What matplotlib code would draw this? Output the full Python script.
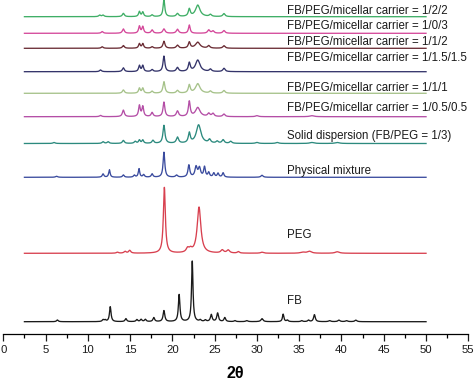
"""Stacked XRD patterns of FB, PEG and the FB/PEG/micellar carrier blends."""

import numpy as np
import matplotlib

matplotlib.use("Agg")
import matplotlib.pyplot as plt

TWO_THETA = np.arange(2.5, 50.0001, 0.02)

# peaks: (2theta, height, half width at half max)
FB_PEAKS = [
    (6.4, 1.7, 0.12), (11.8, 1.8, 0.12), (12.05, 1.5, 0.12), (12.65, 15, 0.11),
    (14.5, 3, 0.12), (15.8, 2, 0.12), (16.3, 2.2, 0.12), (16.8, 2.2, 0.12),
    (17.8, 4, 0.12), (19.0, 11, 0.12), (20.8, 27, 0.11), (22.35, 61, 0.1),
    (23.3, 1.5, 0.12), (23.9, 1.5, 0.12), (24.6, 7, 0.12), (25.35, 8.5, 0.12),
    (26.2, 4, 0.12), (27.4, 1, 0.12), (28.8, 1, 0.15), (30.6, 3, 0.15),
    (33.1, 7.5, 0.1), (33.6, 1.5, 0.12), (35.3, 1, 0.12), (36.1, 1.5, 0.12),
    (36.8, 7, 0.12), (38.6, 1, 0.15), (39.7, 1.5, 0.15), (40.6, 1, 0.15),
    (41.7, 1.5, 0.15),
]
PEG_PEAKS = [
    (13.5, 1, 0.15), (14.4, 1.8, 0.15), (14.95, 2.8, 0.15), (19.05, 66, 0.14),
    (21.8, 4, 0.2), (22.15, 3, 0.2), (23.15, 46, 0.26), (25.9, 3, 0.2),
    (26.6, 3, 0.2), (27.8, 1.5, 0.15), (30.6, 1, 0.2), (35.4, 1, 0.3),
    (36.2, 2, 0.3), (39.5, 1.5, 0.3),
]
PHYSICAL_PEAKS = [
    (6.3, 1, 0.15), (11.8, 3.3, 0.12), (12.55, 7.5, 0.1), (14.2, 2.3, 0.12),
    (15.5, 2, 0.12), (16.05, 8.5, 0.1), (16.6, 2.5, 0.12), (17.6, 3.3, 0.12),
    (19.0, 25, 0.12), (20.5, 2, 0.15), (21.95, 12, 0.13), (22.8, 10, 0.16),
    (23.2, 9, 0.16), (23.8, 10, 0.12), (24.3, 4.5, 0.12), (24.9, 4, 0.12),
    (25.4, 3.8, 0.12), (26.0, 4.3, 0.12), (30.6, 2, 0.15),
]
SOLID_PEAKS = [
    (6.0, 1, 0.15), (11.8, 1.7, 0.14), (12.4, 1.7, 0.14), (14.2, 3, 0.14),
    (15.6, 2, 0.14), (16.1, 3.3, 0.12), (16.5, 3.3, 0.12), (17.7, 3, 0.14),
    (19.0, 18, 0.14), (20.6, 6, 0.16), (22.0, 10, 0.14), (23.1, 18.5, 0.33),
    (24.4, 3.5, 0.16), (25.3, 2, 0.16), (26.0, 3.5, 0.16), (26.9, 2, 0.16),
    (30.0, 1, 0.2), (32.4, 1, 0.2), (36.5, 1, 0.3), (39.5, 1, 0.3),
]
MC_05_05_PEAKS = [
    (11.5, 1.3, 0.14), (14.2, 6.5, 0.14), (16.1, 11, 0.12), (16.5, 10, 0.12),
    (17.6, 4, 0.14), (19.0, 14.5, 0.13), (20.6, 5.5, 0.16), (22.0, 15, 0.13),
    (23.0, 9, 0.32), (24.3, 3, 0.16), (24.8, 3, 0.16), (26.1, 2.5, 0.16),
    (30.0, 1, 0.2), (36.5, 1, 0.3),
]
MC_1_1_PEAKS = [
    (14.2, 3.3, 0.14), (16.1, 5, 0.12), (16.5, 5, 0.12), (17.6, 2, 0.14),
    (19.0, 11.5, 0.14), (20.6, 2.7, 0.16), (22.0, 8, 0.14), (23.0, 9.5, 0.32),
    (24.5, 2, 0.16), (26.1, 2.7, 0.16),
]
MC_15_15_PEAKS = [
    (11.5, 1.7, 0.14), (14.2, 3.8, 0.14), (16.1, 6, 0.12), (16.5, 6, 0.12),
    (17.6, 2, 0.14), (19.0, 15.5, 0.13), (20.6, 4, 0.16), (22.0, 8.5, 0.14),
    (23.0, 11.5, 0.32), (24.5, 2.3, 0.16), (26.1, 3.3, 0.16),
]
MC_1_2_PEAKS = [
    (11.7, 1.5, 0.14), (14.2, 2.7, 0.14), (16.1, 4.5, 0.12), (16.5, 4.5, 0.12),
    (17.6, 1.5, 0.14), (19.0, 7, 0.14), (20.6, 3, 0.16), (22.0, 6, 0.14),
    (23.0, 6, 0.32), (24.3, 2.5, 0.16), (26.1, 2.5, 0.16),
]
MC_0_3_PEAKS = [
    (11.7, 1.7, 0.14), (14.2, 4.3, 0.14), (16.1, 7, 0.12), (16.5, 6.5, 0.12),
    (17.6, 3.3, 0.14), (19.0, 4.3, 0.16), (20.6, 4, 0.16), (22.0, 8.3, 0.12),
    (24.3, 3.3, 0.16), (24.8, 2.3, 0.16), (26.1, 2.7, 0.16),
]
MC_2_2_PEAKS = [
    (11.4, 1.5, 0.14), (11.8, 1.5, 0.14), (14.2, 3.3, 0.14), (16.1, 5, 0.12),
    (16.5, 4.5, 0.12), (17.6, 1.7, 0.14), (19.0, 17, 0.12), (20.6, 3, 0.16),
    (22.0, 7.3, 0.14), (23.0, 11.5, 0.32), (24.5, 2, 0.16), (26.1, 3, 0.16),
]

SAMPLES = [
    ("FB", FB_PEAKS, "#1a1a1a"),
    ("PEG", PEG_PEAKS, "#d8404f"),
    ("Physical mixture", PHYSICAL_PEAKS, "#3a4b9e"),
    ("Solid dispersion (FB/PEG = 1/3)", SOLID_PEAKS, "#2c8a7e"),
    ("FB/PEG/micellar carrier = 1/0.5/0.5", MC_05_05_PEAKS, "#b44ea6"),
    ("FB/PEG/micellar carrier = 1/1/1", MC_1_1_PEAKS, "#a6c28a"),
    ("FB/PEG/micellar carrier = 1/1.5/1.5", MC_15_15_PEAKS, "#34346a"),
    ("FB/PEG/micellar carrier = 1/1/2", MC_1_2_PEAKS, "#6a2c34"),
    ("FB/PEG/micellar carrier = 1/0/3", MC_0_3_PEAKS, "#d4489a"),
    ("FB/PEG/micellar carrier = 1/2/2", MC_2_2_PEAKS, "#3fae66"),
]

# vertical stacking offsets and label anchors (layout only)
OFFSETS = [12.3, 80.7, 156.7, 190.5, 217.3, 240.7, 262.3, 285.7, 300.7, 317.3]
LABEL_Y = [33, 99, 163.3, 198, 225.7, 245.7, 275.7, 292.3, 308, 323]
LABEL_X = 33.5


def profile(peaks):
    y = np.zeros_like(TWO_THETA)
    for pos, height, hw in peaks:
        y += height / (1.0 + ((TWO_THETA - pos) / hw) ** 2)
    return y


plt.rcParams["font.family"] = ["Liberation Sans", "DejaVu Sans"]

fig = plt.figure(figsize=(4.74, 3.82), dpi=100)
ax = fig.add_axes([3.3 / 474, 48 / 382, 465 / 474, 334 / 382])

for (name, peaks, color), off, ly in zip(SAMPLES, OFFSETS, LABEL_Y):
    ax.plot(TWO_THETA, profile(peaks) + off, color=color, linewidth=0.95)
    ax.text(LABEL_X, ly, name, fontsize=8.3, ha="left", va="center",
            color="#1a1a1a")

ax.set_xlim(0, 55)
ax.set_ylim(0, 334)
ax.set_xticks(np.arange(0, 56, 5))
ax.set_xticks(np.arange(2.5, 55, 5), minor=True)
ax.set_yticks([])
for side in ("top", "right", "left"):
    ax.spines[side].set_visible(False)
ax.spines["bottom"].set_linewidth(0.9)
ax.tick_params(axis="x", which="major", direction="out", length=5, width=0.9,
               labelsize=8.2, pad=3, colors="#1a1a1a")
ax.tick_params(axis="x", which="minor", direction="out", length=2.8, width=0.9)
ax.set_xlabel("2θ", fontsize=11.5, fontweight="bold", labelpad=7.5)

fig.savefig("out.png", dpi=100)
